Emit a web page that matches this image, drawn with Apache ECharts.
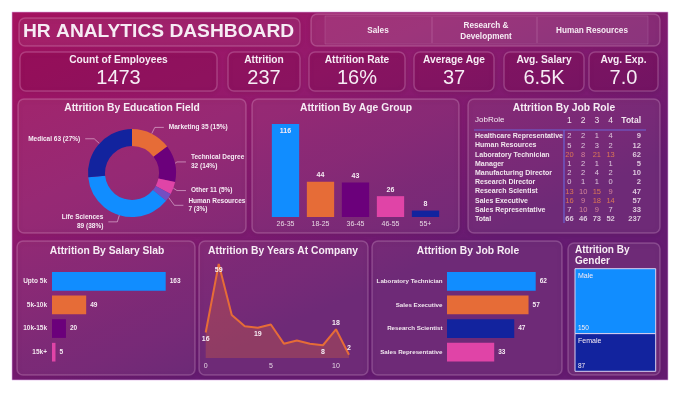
<!DOCTYPE html>
<html><head><meta charset="utf-8">
<script src="https://cdn.jsdelivr.net/npm/echarts@6/dist/echarts.min.js"></script>
<style>html,body{margin:0;padding:0;background:#fff}#c{width:680px;height:393px}</style>
</head><body><div id="c"></div>
<script>
// ---------- DATA ----------
const dashboardTitle = 'HR ANALYTICS DASHBOARD';
const tabs = ['Sales', 'Research &\nDevelopment', 'Human Resources'];
const kpiTitles = ['Count of Employees', 'Attrition', 'Attrition Rate', 'Average Age', 'Avg. Salary', 'Avg. Exp.'];
const kpiValues = ['1473', '237', '16%', '37', '6.5K', '7.0'];
const panelTitles = ['Attrition By Education Field', 'Attrition By Age Group', 'Attrition By Job Role',
  'Attrition By Salary Slab', 'Attrition By Years At Company', 'Attrition By Job Role', 'Attrition By\nGender'];
const eduFields = ['Marketing', 'Technical Degree', 'Other', 'Human Resources', 'Life Sciences', 'Medical'];
const eduValues = [35, 32, 11, 7, 89, 63];
const ageGroups = ['26-35', '18-25', '36-45', '46-55', '55+'];
const ageValues = [116, 44, 43, 26, 8];
const jobRoles = ['Healthcare Representative', 'Human Resources', 'Laboratory Technician', 'Manager',
  'Manufacturing Director', 'Research Director', 'Research Scientist', 'Sales Executive', 'Sales Representative', 'Total'];
const jobLevels = ['1', '2', '3', '4'];
const jobMatrix = [[2,2,1,4],[5,2,3,2],[20,8,21,13],[1,2,1,1],[2,2,4,2],[0,1,1,0],[13,10,15,9],[16,9,18,14],[7,10,9,7],[66,46,73,52]];
const jobTotals = [9, 12, 62, 5, 10, 2, 47, 57, 33, 237];
const salarySlabs = ['Upto 5k', '5k-10k', '10k-15k', '15k+'];
const salaryValues = [163, 49, 20, 5];
const years = [0,1,2,3,4,5,6,7,8,9,10,11];
const yearValues = [16, 59, 27, 20, 19, 21, 9, 11, 9, 8, 18, 2];
const yearLabelled = [0, 1, 4, 9, 10, 11];
const topRoles = ['Laboratory Technician', 'Sales Executive', 'Research Scientist', 'Sales Representative'];
const topRoleValues = [62, 57, 47, 33];
const genders = ['Male', 'Female'];
const genderValues = [150, 87];

// ---------- STYLE ----------
const FONT = '"Liberation Sans", Arial, Helvetica, sans-serif';
const TXT = '#f6ecf4';
const PAL = {blue:'#118DFF', navy:'#12239E', orange:'#E66C37', purple:'#6B007B', pink:'#E044A7', violet:'#744EC2'};
const eduColors = [PAL.orange, PAL.purple, PAL.pink, PAL.violet, PAL.blue, PAL.navy];
const ageColors = [PAL.blue, PAL.orange, PAL.purple, PAL.pink, PAL.navy];
const salaryColors = [PAL.blue, PAL.orange, PAL.purple, PAL.pink];
const roleColors = [PAL.blue, PAL.orange, PAL.navy, PAL.pink];
const genderColors = [PAL.blue, PAL.navy];
function cellColor(v) { return v >= 13 ? '#F58A4E' : (v >= 8 ? '#EC9AA0' : TXT); }

function panel(x, y, w, h, fill) {
  return {type:'rect', shape:{x, y, width:w, height:h, r:6}, z:1, silent:true,
    style:{fill: fill || 'rgba(255,255,255,0.07)', stroke:'rgba(255,215,245,0.22)', lineWidth:1.5,
      shadowBlur:5, shadowColor:'rgba(50,0,40,0.45)', shadowOffsetY:1}};
}
function txt(x, y, t, size, weight, align, lh) {
  return {type:'text', x, y, z:50, silent:true,
    style:{text:t, fill:TXT, fontSize:size, fontWeight:weight || 'bold', fontFamily:FONT,
      align: align || 'center', verticalAlign:'middle', lineHeight: lh || size * 1.2}};
}

const graphics = [];
graphics.push({type:'rect', shape:{x:12, y:12, width:656, height:368}, z:0, silent:true,
  style:{stroke:'rgba(220,170,230,0.6)', lineWidth:1,
    fill:{type:'linear', x:0, y:0, x2:0.25, y2:1, colorStops:[
      {offset:0, color:'#a5125f'}, {offset:0.45, color:'#931a6c'}, {offset:1, color:'#641b70'}]}}});
// title box
graphics.push(panel(19, 18, 281, 28, 'rgba(255,255,255,0.06)'));
graphics.push(txt(23, 32, dashboardTitle, 19.2, 'bold', 'left'));
// tabs
graphics.push(panel(311, 14, 349, 32, 'rgba(255,255,255,0.08)'));
graphics.push({type:'rect', shape:{x:325, y:16, width:323, height:28}, z:2, silent:true,
  style:{fill:'rgba(255,255,255,0.05)', stroke:'rgba(255,215,245,0.12)', lineWidth:1}});
[432, 537].forEach(x => graphics.push({type:'line', shape:{x1:x, y1:17, x2:x, y2:43}, z:3, silent:true,
  style:{stroke:'rgba(255,215,245,0.2)', lineWidth:1}}));
const tabCenters = [378, 486, 592];
tabs.forEach((t, i) => graphics.push(txt(tabCenters[i], 31, t, 8.2, 'bold', 'center', 10.5)));
// KPI cards
const cards = [[20,197],[228,72],[309,96],[414,80],[504,80],[589,69]];
cards.forEach((c, i) => {
  graphics.push(panel(c[0], 52, c[1], 39, 'rgba(140,0,70,0.18)'));
  graphics.push(txt(c[0] + c[1] / 2, 60, kpiTitles[i], 10.2, 'bold'));
  graphics.push(txt(c[0] + c[1] / 2, 78, kpiValues[i], 20, 'normal'));
});
// chart panels
const panels = [[18,99,228,134],[252,99,207,134],[468,99,192,134],[17,241,178,134],[199,241,169,134],[372,241,190,134],[568,243,92,132]];
panels.forEach(p => graphics.push(panel(p[0], p[1], p[2], p[3])));
graphics.push(txt(132, 108, panelTitles[0], 10.3));
graphics.push(txt(356, 108, panelTitles[1], 10.3));
graphics.push(txt(564, 108, panelTitles[2], 10.3));
graphics.push(txt(107, 251, panelTitles[3], 10.3));
graphics.push(txt(283, 251, panelTitles[4], 10.3));
graphics.push(txt(468, 251, panelTitles[5], 10.3));
graphics.push(txt(575, 256, panelTitles[6], 10, 'bold', 'left', 11));
// table header & rules
graphics.push(txt(475, 120, 'JobRole', 8, 'normal', 'left'));
graphics.push({type:'line', shape:{x1:474, y1:130, x2:646, y2:130}, z:5, silent:true, style:{stroke:'#6d63d6', lineWidth:1.2}});
graphics.push({type:'line', shape:{x1:564, y1:130, x2:564, y2:223}, z:5, silent:true, style:{stroke:'#6d63d6', lineWidth:1.2}});

// ---------- SERIES DATA BUILD ----------
const tableA = [];
jobMatrix.forEach((row, r) => row.forEach((v, c) => {
  const isTot = r === jobRoles.length - 1;
  tableA.push({value:[c, r, v], label:{color: isTot ? TXT : cellColor(v), fontWeight: isTot ? 'bold' : 'normal'}});
}));
const tableB = jobTotals.map((v, r) => ({value:[0, r, v]}));
let cum = 0;
const genderData = genders.map((g, i) => { const d = {name:g, value:[0, cum, cum + genderValues[i], genderValues[i]]}; cum += genderValues[i]; return d; });

const hiddenCat = (gi, data, extra) => Object.assign({gridIndex:gi, type:'category', data, axisLine:{show:false}, axisTick:{show:false}, splitLine:{show:false}}, extra || {});
const hiddenVal = (gi, extra) => Object.assign({gridIndex:gi, type:'value', show:false, min:0, splitLine:{show:false}}, extra || {});
const lbl = (size, weight) => ({color:TXT, fontSize:size, fontWeight:weight || 'normal', fontFamily:FONT});

const option = {
  animation:false,
  backgroundColor:'#ffffff',
  graphic:{elements:graphics},
  grid:[
    {left:268, top:124, width:175, height:93},          // 0 age
    {left:562.6, top:131.7, width:54.8, height:92},      // 1 table levels
    {left:630, top:131.7, width:22, height:92},          // 2 table total
    {left:52, top:269.5, width:113.7, height:94.5},      // 3 salary
    {left:205.7, top:264, width:143.3, height:94},       // 4 years
    {left:447, top:269.5, width:88.7, height:94.5},      // 5 roles
    {left:575, top:268.7, width:80.7, height:102.6}      // 6 gender
  ],
  xAxis:[
    hiddenCat(0, ageGroups, {axisLabel:Object.assign(lbl(7), {margin:4, color:'#eadbe8'})}),
    hiddenCat(1, jobLevels, {position:'top', axisLabel:Object.assign(lbl(8.5), {margin:7})}),
    hiddenCat(2, ['Total'], {position:'top', axisLabel:Object.assign(lbl(8.5, 'bold'), {margin:7, align:'right'})}),
    hiddenVal(3, {max:'dataMax'}),
    {gridIndex:4, type:'value', min:0, max:11, interval:5, axisLine:{show:false}, axisTick:{show:false}, splitLine:{show:false},
      axisLabel:Object.assign(lbl(7), {margin:5, color:'#eadbe8', showMaxLabel:false})},
    hiddenVal(5, {max:'dataMax'}),
    hiddenCat(6, ['Gender'], {show:false})
  ],
  yAxis:[
    hiddenVal(0, {max:'dataMax'}),
    hiddenCat(1, jobRoles, {inverse:true, axisLabel:Object.assign(lbl(7, 'bold'), {align:'left', margin:87.6})}),
    hiddenCat(2, jobRoles, {inverse:true, axisLabel:{show:false}}),
    hiddenCat(3, salarySlabs, {inverse:true, axisLabel:Object.assign(lbl(6.5, 'bold'), {margin:5})}),
    hiddenVal(4, {max:'dataMax'}),
    hiddenCat(5, topRoles, {inverse:true, axisLabel:Object.assign(lbl(6.2, 'bold'), {margin:4.5})}),
    hiddenVal(6, {max:cum, inverse:true})
  ],
  series:[
    {type:'pie', center:[132, 173], radius:[27, 44], startAngle:90, clockwise:true,
      data: eduFields.map((n, i) => ({name:n, value:eduValues[i], itemStyle:{color:eduColors[i]}})),
      label:Object.assign(lbl(6.5, 'bold'), {lineHeight:8.5, formatter: p => {
        const pct = Math.round(p.percent);
        return p.name.length > 12 ? p.name + '\n' + p.value + ' (' + pct + '%)' : p.name + ' ' + p.value + ' (' + pct + '%)';
      }}),
      labelLine:{length:7, length2:9, lineStyle:{color:'rgba(255,235,250,0.6)', width:0.8}}},
    {type:'bar', xAxisIndex:0, yAxisIndex:0, barCategoryGap:'22%',
      data: ageValues.map((v, i) => ({value:v, itemStyle:{color:ageColors[i]}, label: i === 0 ? {position:'insideTop', distance:4} : {}})),
      label:Object.assign(lbl(7, 'bold'), {show:true, position:'top', distance:3})},
    {type:'scatter', xAxisIndex:1, yAxisIndex:1, symbolSize:0, data:tableA,
      label:Object.assign(lbl(7.5), {show:true, position:'inside', formatter: p => p.value[2]})},
    {type:'scatter', xAxisIndex:2, yAxisIndex:2, symbolSize:0, data:tableB,
      label:Object.assign(lbl(7.6, 'bold'), {show:true, position:'inside', align:'right', formatter: p => p.value[2]})},
    {type:'bar', xAxisIndex:3, yAxisIndex:3, barCategoryGap:'21%',
      data: salaryValues.map((v, i) => ({value:v, itemStyle:{color:salaryColors[i]}})),
      label:Object.assign(lbl(6.5, 'bold'), {show:true, position:'right', distance:4})},
    {type:'line', xAxisIndex:4, yAxisIndex:4, symbolSize:0, showSymbol:true,
      data: years.map((x, i) => ({value:[x, yearValues[i]], label:{show: yearLabelled.indexOf(i) >= 0, position: i >= 10 ? 'top' : 'bottom'}})),
      lineStyle:{color:PAL.orange, width:2}, itemStyle:{color:PAL.orange},
      areaStyle:{color:'rgba(230,108,55,0.40)'},
      label:Object.assign(lbl(7, 'bold'), {distance:3})},
    {type:'bar', xAxisIndex:5, yAxisIndex:5, barCategoryGap:'21%',
      data: topRoleValues.map((v, i) => ({value:v, itemStyle:{color:roleColors[i]}})),
      label:Object.assign(lbl(6.5, 'bold'), {show:true, position:'right', distance:4})},
    {type:'custom', xAxisIndex:6, yAxisIndex:6, data:genderData, encode:{x:0, y:[1, 2]},
      renderItem: (params, api) => {
        const p0 = api.coord([0, api.value(1)]);
        const p1 = api.coord([0, api.value(2)]);
        const w = api.size([1, 0])[0];
        const x = p0[0] - w / 2, y = Math.min(p0[1], p1[1]), h = Math.abs(p1[1] - p0[1]);
        return {type:'group', children:[
          {type:'rect', shape:{x, y, width:w, height:h}, style:{fill:genderColors[params.dataIndex], stroke:'#d9d2f2', lineWidth:1}},
          {type:'text', x:x + 3, y:y + 4, style:{text:genders[params.dataIndex], fill:TXT, fontSize:7, fontFamily:FONT, verticalAlign:'top'}},
          {type:'text', x:x + 3, y:y + h - 2, style:{text:String(api.value(3)), fill:TXT, fontSize:6.5, fontFamily:FONT, verticalAlign:'bottom'}}
        ]};
      }}
  ]
};
const chart = echarts.init(document.getElementById('c'));
chart.setOption(option);
</script>
</body></html>
